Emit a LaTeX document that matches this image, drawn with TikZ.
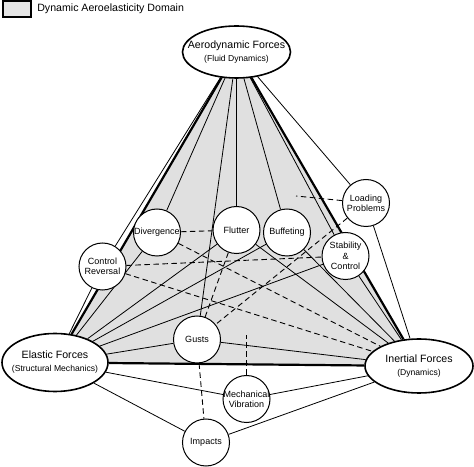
\documentclass[tikz,border=0pt]{standalone}
\usepackage{fontspec}
\setmainfont{Liberation Sans}
\usepackage{tikz}
\usetikzlibrary{shapes,backgrounds,positioning}
\newcommand{\bigtxt}{\fontsize{10.6}{12}\selectfont}
\newcommand{\smalltxt}{\fontsize{8.6}{10}\selectfont}
\newcommand{\circtxt}{\fontsize{9}{10.3}\selectfont}

\begin{document}
\begin{tikzpicture}[x=1pt,y=1pt,
                    force/.style={ellipse, draw, line width=1.6pt, fill=white, inner sep=0pt},
                    effect/.style={circle, draw, line width=1pt, fill=white, inner sep=-2pt,
                                   minimum size=47pt, align=center, font=\circtxt},
                    mysolid/.style={line width=0.8pt, black},
                    mythick/.style={line width=2.2pt, black},
                    mydash/.style={line width=0.9pt, black, dash pattern=on 5.5pt off 3.5pt},
                   ]

\useasboundingbox (0,0) rectangle (474,466);

% legend
\node[draw, line width=1.6pt, fill=black!10, minimum width=28pt, minimum height=16pt] (key) at (17,457) {};
\node[right=2pt of key, font=\bigtxt] (keytxt) {Dynamic Aeroelasticity Domain};

% the three forces
\node[force, minimum width=108pt, minimum height=52pt] (aero) at (236.5,414) {};
\node[align=center, font=\bigtxt] (aerotxt) at (aero) {Aerodynamic Forces\\[1pt]{\smalltxt (Fluid Dynamics)}};
\node[force, minimum width=106pt, minimum height=58pt] (elastic) at (55,103.5) {};
\node[align=center, font=\bigtxt] (elastictxt) at (elastic) {Elastic Forces\\[1pt]{\smalltxt (Structural Mechanics)}};
\node[force, minimum width=108pt, minimum height=54pt] (inertial) at (419,100) {};
\node[align=center, font=\bigtxt] (inertialtxt) at (inertial) {Inertial Forces\\[1pt]{\smalltxt (Dynamics)}};

% the phenomena
\node[effect] (diverg) at (157,233.5) {Divergence};
\node[effect] (contrev) at (102.5,199.5) {Control\\Reversal};
\node[effect] (flutter) at (236.5,236) {Flutter};
\node[effect] (buffet) at (287,233.5) {Buffeting};
\node[effect] (loading) at (366,263) {Loading\\Problems};
\node[effect] (stabil) at (345.5,210) {Stability\\\&\\Control};
\node[effect] (gusts) at (197,126.5) {Gusts};
\node[effect] (mechvib) at (246.5,67) {Mechanical\\Vibration};
\node[effect] (impacts) at (206,23.5) {Impacts};

\coordinate (loadend) at (296,270);
\coordinate (vibend) at (246.5,131);

\begin{scope}[on background layer]
\fill[black!12] (aero.center) -- (elastic.center) -- (inertial.center) -- cycle;

\draw[mythick] (aero) -- (elastic);
\draw[mythick] (aero) -- (inertial);
\draw[mythick] (elastic) -- (inertial);

\foreach \n in {contrev,diverg,gusts,flutter,buffet,stabil,loading}
    \draw[mysolid] (aero) -- (\n);
\foreach \n in {contrev,diverg,flutter,buffet,stabil,gusts,mechvib,impacts}
    \draw[mysolid] (elastic) -- (\n);
\foreach \n in {flutter,buffet,stabil,loading,gusts,mechvib,impacts}
    \draw[mysolid] (inertial) -- (\n);

\draw[mydash] (diverg) -- (flutter);
\draw[mydash] (contrev) -- (stabil);
\draw[mydash] (diverg) -- (inertial);
\draw[mydash] (contrev) -- (inertial);
\draw[mydash] (loading) -- (gusts);
\draw[mydash] (flutter) -- (gusts);
\draw[mydash] (gusts) -- (impacts);
\draw[mydash] (loading) -- (loadend);
\draw[mydash] (mechvib) -- (vibend);
\end{scope}

\end{tikzpicture}
\end{document}
